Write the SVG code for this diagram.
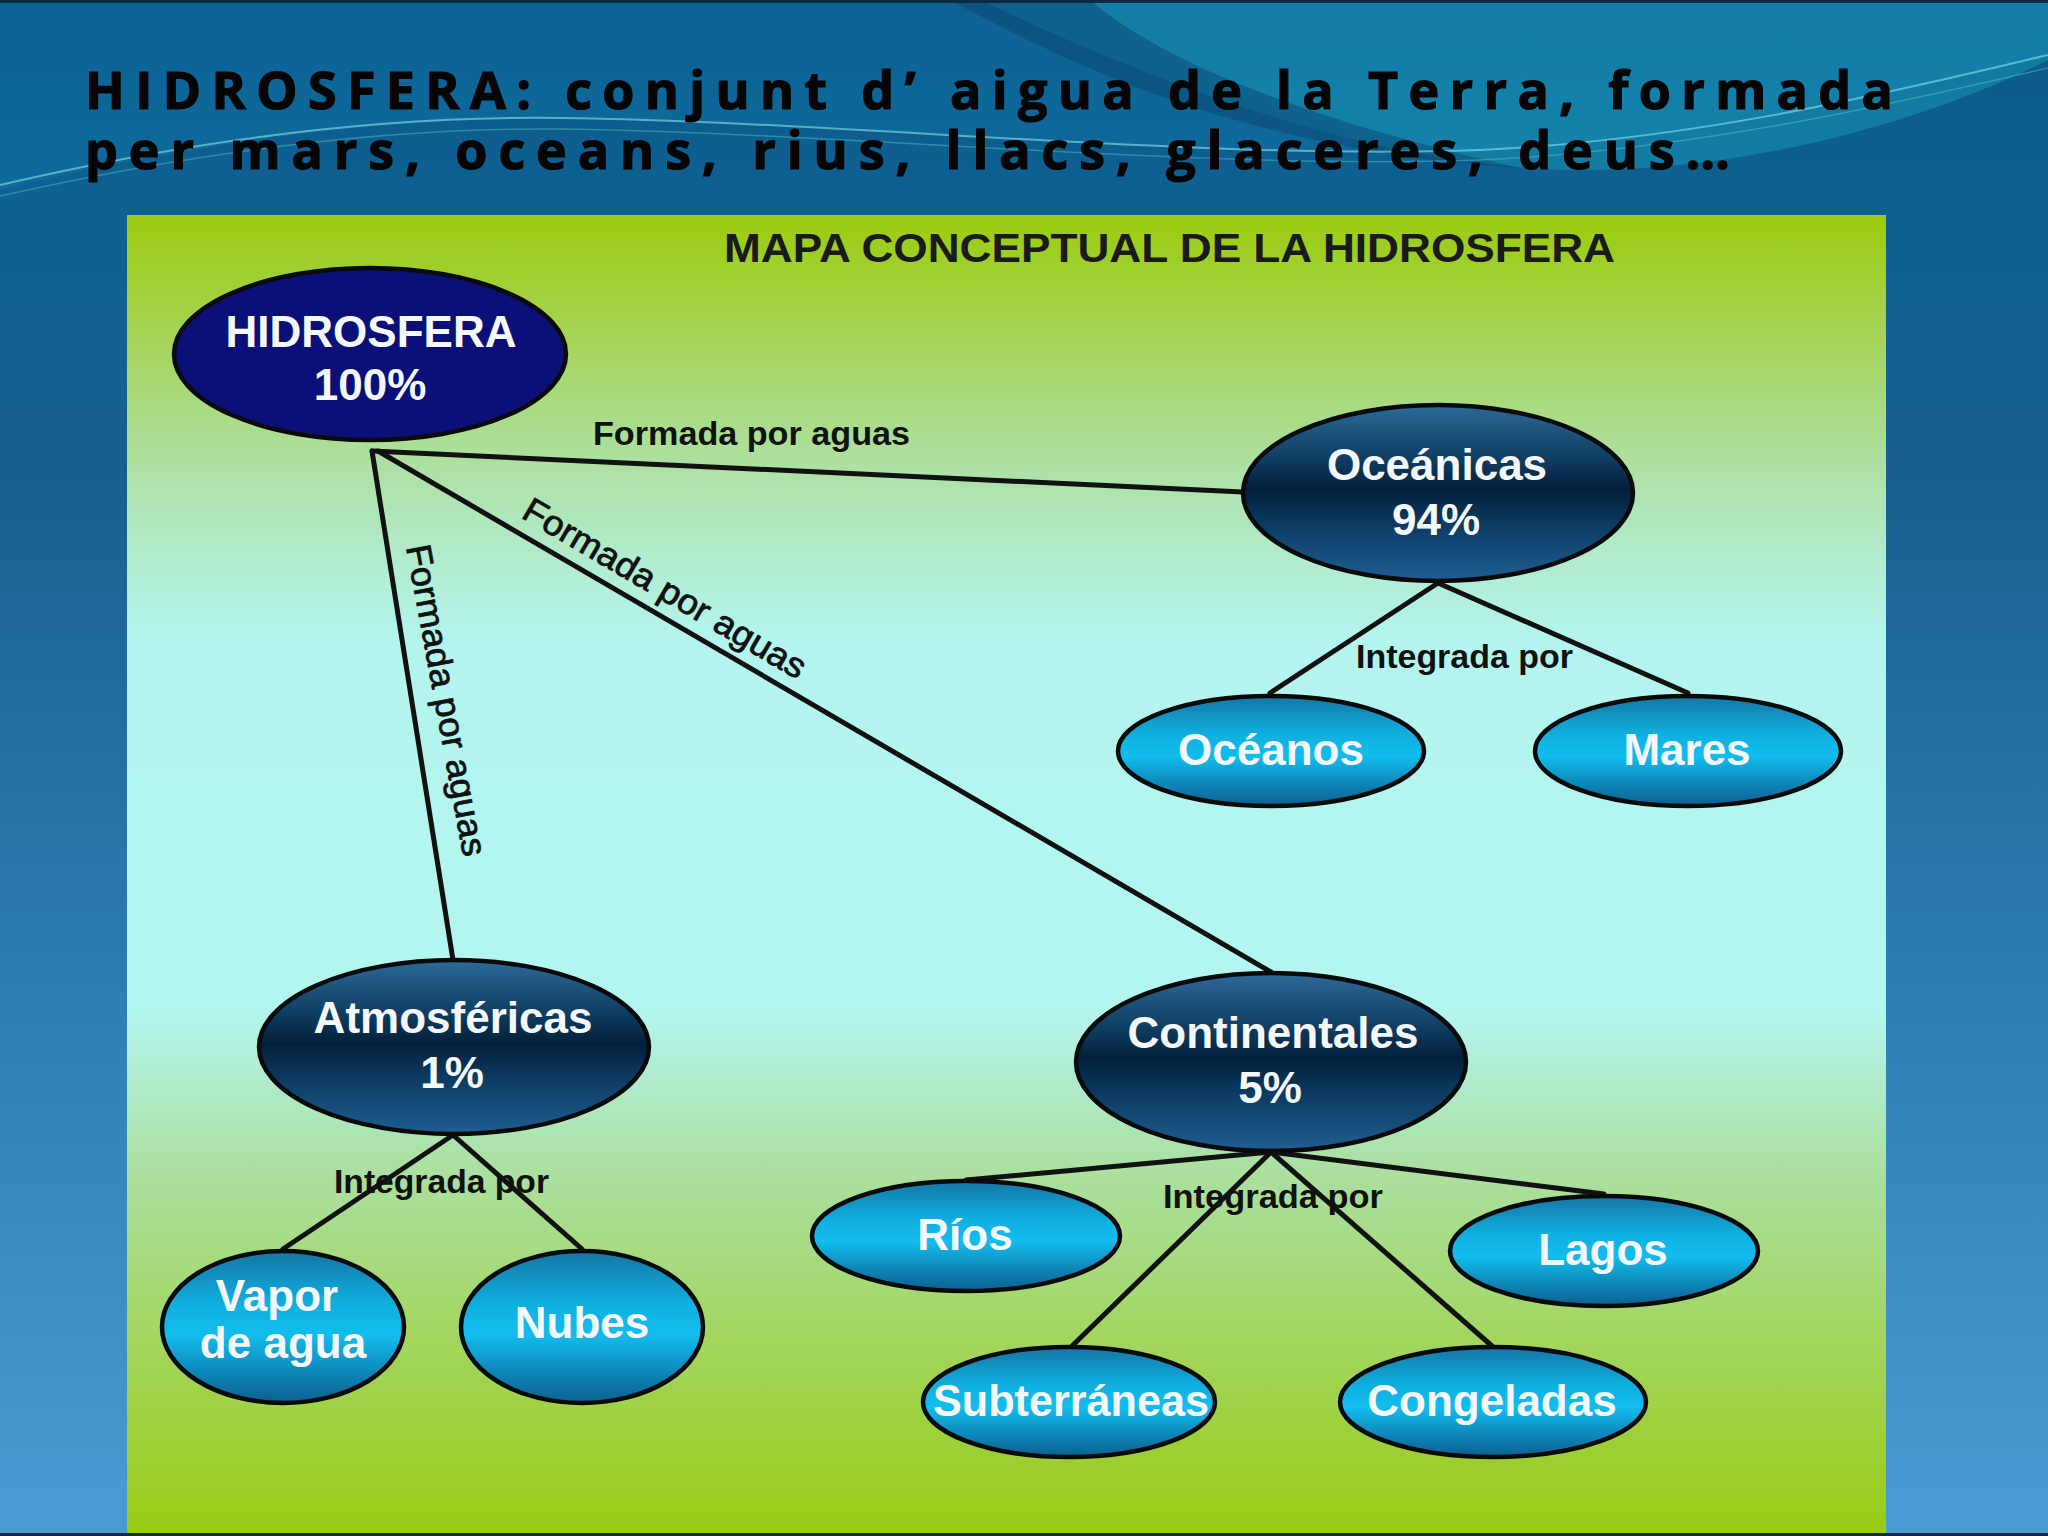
<svg xmlns="http://www.w3.org/2000/svg" width="2048" height="1536" viewBox="0 0 2048 1536">
<defs>
  <linearGradient id="bg" x1="0" y1="0" x2="0" y2="1">
    <stop offset="0" stop-color="#0c6294"/>
    <stop offset="0.12" stop-color="#0f6a9c"/>
    <stop offset="0.3" stop-color="#175f90"/>
    <stop offset="0.6" stop-color="#2b7aaf"/>
    <stop offset="1" stop-color="#4a9cd4"/>
  </linearGradient>
  <linearGradient id="shade" gradientUnits="userSpaceOnUse" x1="0" y1="60" x2="0" y2="420">
    <stop offset="0" stop-color="#0a4a78" stop-opacity="0.4"/>
    <stop offset="0.5" stop-color="#0a4a78" stop-opacity="0.25"/>
    <stop offset="1" stop-color="#0a4a78" stop-opacity="0"/>
  </linearGradient>
  <linearGradient id="panel" gradientUnits="userSpaceOnUse" x1="0" y1="215" x2="0" y2="1536">
    <stop offset="0" stop-color="#9bcc0c"/>
    <stop offset="0.1" stop-color="#a6d45e"/>
    <stop offset="0.2" stop-color="#aee2aa"/>
    <stop offset="0.32" stop-color="#b3f5ee"/>
    <stop offset="0.6" stop-color="#b3f6f0"/>
    <stop offset="0.72" stop-color="#abe0a2"/>
    <stop offset="0.86" stop-color="#a2d55a"/>
    <stop offset="1" stop-color="#98cb12"/>
  </linearGradient>
  <linearGradient id="dark" x1="0" y1="0" x2="0" y2="1">
    <stop offset="0" stop-color="#2c6a98"/>
    <stop offset="0.3" stop-color="#0f3e63"/>
    <stop offset="0.48" stop-color="#03203a"/>
    <stop offset="0.7" stop-color="#0d3d66"/>
    <stop offset="1" stop-color="#1f5f92"/>
  </linearGradient>
  <linearGradient id="light" x1="0" y1="0" x2="0" y2="1">
    <stop offset="0" stop-color="#1476a4"/>
    <stop offset="0.35" stop-color="#0fb0e0"/>
    <stop offset="0.55" stop-color="#12bdee"/>
    <stop offset="0.8" stop-color="#0e86b8"/>
    <stop offset="1" stop-color="#0b6090"/>
  </linearGradient>
  <style>
    .node { stroke: #0a0a0a; stroke-width: 4.5; }
    .d { fill: url(#dark); }
    .l { fill: url(#light); }
    .nt { font-family: "Liberation Sans", Arial, sans-serif; font-weight: bold; font-size: 44px; fill: #f4f8fa; text-anchor: middle; }
    .conn line { stroke: #111; stroke-width: 5; stroke-linecap: round; }
    .lab { font-family: "Liberation Sans", Arial, sans-serif; font-weight: bold; font-size: 33px; fill: #111; }
    .rlab { font-family: "Liberation Sans", Arial, sans-serif; font-size: 35px; fill: #111; stroke: #111; stroke-width: 0.8; }
    .head { font-family: "Open Sans", "Liberation Sans", sans-serif; font-weight: bold; font-size: 52px; fill: #050505; stroke: #050505; stroke-width: 1.2; }
  </style>
</defs>

<!-- slide background -->
<rect x="0" y="0" width="2048" height="1536" fill="url(#bg)"/>
<path d="M 0 190 C 200 140 400 115 600 118 C 900 125 1200 160 1480 150 C 1700 140 1900 90 2048 55 L 2048 420 L 0 420 Z" fill="url(#shade)"/>
<path d="M 980 0 C 1150 80 1350 160 1560 170 C 1760 175 1950 110 2048 60 L 2048 0 Z" fill="#1aa0bf" opacity="0.45"/>
<path d="M 950 0 C 1080 70 1250 150 1520 168 C 1300 118 1160 60 1090 0 Z" fill="#0a4670" opacity="0.5"/>
<path d="M 0 185 C 150 150 350 115 560 118 C 850 122 1200 160 1480 150 C 1700 140 1900 90 2048 55" fill="none" stroke="#86e4ea" stroke-width="2" opacity="0.6"/>
<path d="M 0 196 C 160 160 360 127 560 129 C 850 133 1200 170 1480 160 C 1700 150 1900 102 2048 68" fill="none" stroke="#5ccfd8" stroke-width="1.5" opacity="0.4"/>
<rect x="0" y="0" width="2048" height="3" fill="#0a2a45"/>

<!-- slide heading -->
<text class="head" x="85" y="109" textLength="1808" lengthAdjust="spacing">HIDROSFERA: conjunt d’ aigua de la Terra, formada</text>
<text class="head" x="85" y="169" textLength="1645" lengthAdjust="spacing">per mars, oceans, rius, llacs, glaceres, deus…</text>

<!-- concept map panel -->
<rect x="127" y="215" width="1759" height="1321" fill="url(#panel)"/>
<rect x="0" y="1533" width="2048" height="3" fill="#1a2a3a"/>
<text x="724" y="262" textLength="891" lengthAdjust="spacingAndGlyphs" style="font-family:'Liberation Sans',Arial,sans-serif;font-weight:bold;font-size:40px;fill:#1a1a1a">MAPA CONCEPTUAL DE LA HIDROSFERA</text>

<g id="connectors" class="conn">
  <line x1="372" y1="451" x2="1243" y2="492"/>
  <line x1="372" y1="451" x2="453" y2="960"/>
  <line x1="378" y1="451" x2="1271" y2="972"/>
  <line x1="1438" y1="583" x2="1270" y2="693"/>
  <line x1="1438" y1="583" x2="1688" y2="693"/>
  <line x1="453" y1="1135" x2="283" y2="1249"/>
  <line x1="453" y1="1135" x2="582" y2="1249"/>
  <line x1="1271" y1="1152" x2="966" y2="1180"/>
  <line x1="1271" y1="1152" x2="1604" y2="1194"/>
  <line x1="1271" y1="1152" x2="1072" y2="1346"/>
  <line x1="1271" y1="1152" x2="1492" y2="1346"/>
</g>

<g id="labels">
  <text class="lab" x="593" y="445" textLength="317" lengthAdjust="spacingAndGlyphs">Formada por aguas</text>
  <text class="rlab" transform="translate(520,517) rotate(30.4)" textLength="322" lengthAdjust="spacingAndGlyphs">Formada por aguas</text>
  <text class="rlab" transform="translate(406,547) rotate(79.5)" textLength="316" lengthAdjust="spacingAndGlyphs">Formada por aguas</text>
  <text class="lab" x="1356" y="668" textLength="217" lengthAdjust="spacingAndGlyphs">Integrada por</text>
  <text class="lab" x="334" y="1193" textLength="215" lengthAdjust="spacingAndGlyphs">Integrada por</text>
  <text class="lab" x="1163" y="1208" textLength="220" lengthAdjust="spacingAndGlyphs">Integrada por</text>
</g>

<g id="node-hidrosfera">
  <ellipse class="node" cx="370" cy="354" rx="196" ry="86" fill="#0b1079"/>
  <text class="nt" x="371" y="347">HIDROSFERA</text>
  <text class="nt" x="370" y="400">100%</text>
</g>
<g id="node-oceanicas">
  <ellipse class="node d" cx="1438" cy="493" rx="195" ry="88"/>
  <text class="nt" x="1437" y="480">Oceánicas</text>
  <text class="nt" x="1436" y="535">94%</text>
</g>
<g id="node-oceanos">
  <ellipse class="node l" cx="1271" cy="751" rx="153" ry="55"/>
  <text class="nt" x="1271" y="765">Océanos</text>
</g>
<g id="node-mares">
  <ellipse class="node l" cx="1688" cy="751" rx="153" ry="55"/>
  <text class="nt" x="1687" y="765">Mares</text>
</g>
<g id="node-atmosfericas">
  <ellipse class="node d" cx="454" cy="1047" rx="195" ry="87"/>
  <text class="nt" x="453" y="1033">Atmosféricas</text>
  <text class="nt" x="452" y="1088">1%</text>
</g>
<g id="node-vapor">
  <ellipse class="node l" cx="283" cy="1327" rx="121" ry="76"/>
  <text class="nt" x="277" y="1311">Vapor</text>
  <text class="nt" x="283" y="1358">de agua</text>
</g>
<g id="node-nubes">
  <ellipse class="node l" cx="582" cy="1327" rx="121" ry="76"/>
  <text class="nt" x="582" y="1338">Nubes</text>
</g>
<g id="node-continentales">
  <ellipse class="node d" cx="1271" cy="1062" rx="195" ry="89"/>
  <text class="nt" x="1273" y="1048">Continentales</text>
  <text class="nt" x="1270" y="1103">5%</text>
</g>
<g id="node-rios">
  <ellipse class="node l" cx="966" cy="1236" rx="154" ry="55"/>
  <text class="nt" x="965" y="1250">Ríos</text>
</g>
<g id="node-lagos">
  <ellipse class="node l" cx="1604" cy="1251" rx="154" ry="55"/>
  <text class="nt" x="1603" y="1265">Lagos</text>
</g>
<g id="node-subterraneas">
  <ellipse class="node l" cx="1069" cy="1402" rx="146" ry="55"/>
  <text class="nt" x="1071" y="1416" textLength="276" lengthAdjust="spacingAndGlyphs">Subterráneas</text>
</g>
<g id="node-congeladas">
  <ellipse class="node l" cx="1493" cy="1402" rx="153" ry="55"/>
  <text class="nt" x="1492" y="1416">Congeladas</text>
</g>
</svg>
